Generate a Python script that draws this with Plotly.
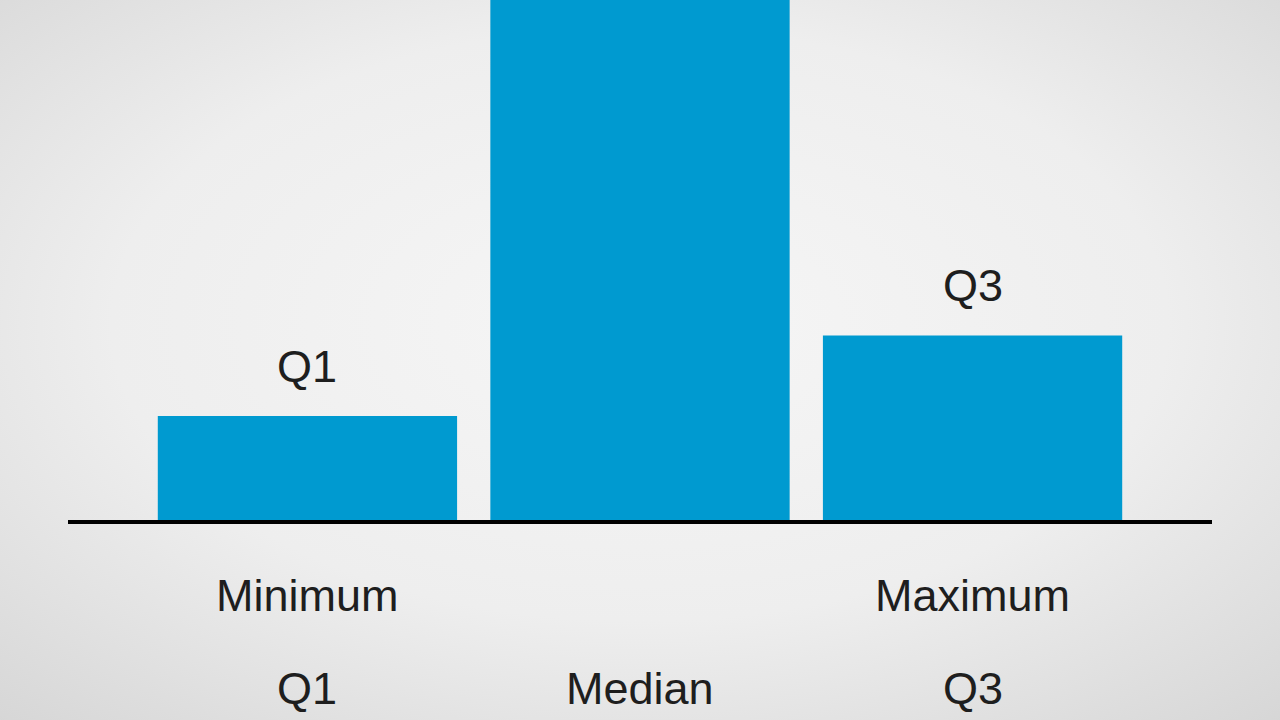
import base64
import plotly.graph_objects as go

# bar data
categories = ["Minimum / Q1", "Median", "Maximum / Q3"]
values = [2.0, 12.0, 3.55]
top_labels = ["Q1", "", "Q3"]
row1_labels = ["Minimum", "", "Maximum"]
row2_labels = ["Q1", "Median", "Q3"]

BAR_COLOR = "#009ad0"
FONT = "Liberation Sans, Arial, sans-serif"
TEXT_COLOR = "#1e1e1e"
SIZE = 45

# soft radial grey background
svg = """<svg xmlns='http://www.w3.org/2000/svg' width='1280' height='720'>
<defs><radialGradient id='g' cx='50%' cy='45%' r='75%'>
<stop offset='0%' stop-color='#f6f6f6'/>
<stop offset='55%' stop-color='#eeeeee'/>
<stop offset='100%' stop-color='#d6d6d6'/>
</radialGradient></defs>
<rect width='1280' height='720' fill='url(#g)'/></svg>"""
bg_src = "data:image/svg+xml;base64," + base64.b64encode(svg.encode()).decode()

fig = go.Figure()
fig.add_trace(go.Bar(
    x=list(range(len(categories))),
    y=values,
    width=0.9,
    marker=dict(color=BAR_COLOR, line=dict(width=0)),
    hovertext=categories,
    hoverinfo="text",
))

annotations = []
for i, (v, lab) in enumerate(zip(values, top_labels)):
    if lab:
        annotations.append(dict(x=i, y=v, xref="x", yref="y", text=lab,
                                showarrow=False, yanchor="middle", yshift=50,
                                font=dict(family=FONT, size=SIZE, color=TEXT_COLOR)))
for i, lab in enumerate(row1_labels):
    if lab:
        annotations.append(dict(x=i, y=0, xref="x", yref="paper", text=lab,
                                showarrow=False, yanchor="middle", yshift=-75,
                                font=dict(family=FONT, size=SIZE, color=TEXT_COLOR)))
for i, lab in enumerate(row2_labels):
    annotations.append(dict(x=i, y=0, xref="x", yref="paper", text=lab,
                            showarrow=False, yanchor="middle", yshift=-168,
                            font=dict(family=FONT, size=SIZE, color=TEXT_COLOR)))

fig.update_layout(
    width=1280, height=720,
    margin=dict(l=68, r=68, t=0, b=200),
    paper_bgcolor="#ececec",
    plot_bgcolor="rgba(0,0,0,0)",
    showlegend=False,
    annotations=annotations,
    images=[dict(source=bg_src, xref="paper", yref="paper", x=-68/1144, y=1,
                 sizex=1280/1144, sizey=720/520, xanchor="left", yanchor="top",
                 sizing="stretch", layer="below")],
    xaxis=dict(range=[-0.72, 2.72], showticklabels=False, showgrid=False,
               zeroline=False, showline=True, linecolor="#000000", linewidth=4,
               ticks=""),
    yaxis=dict(range=[0, 10], visible=False, showgrid=False, zeroline=False),
)

# drop the default page margin so the figure fills the window
fig.write_html("out.html", config={"displayModeBar": False},
               post_script="document.body.style.margin='0';")
